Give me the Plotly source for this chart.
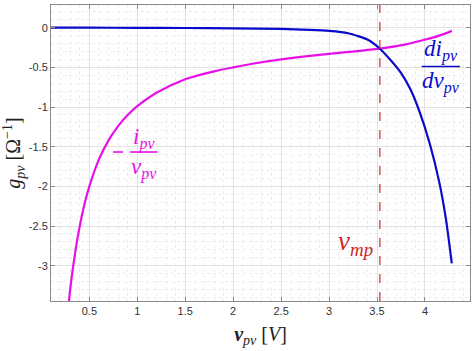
import plotly.graph_objects as go

# --- data ---
v_pink = [0.28, 0.30, 0.35, 0.40, 0.45, 0.50, 0.60, 0.70, 0.80, 0.90, 1.00, 1.20, 1.50, 1.80, 2.00, 2.20, 2.50, 2.80, 3.00, 3.30, 3.53, 3.80, 4.00, 4.15, 4.28]
g_pink = [-3.55, -3.30, -2.85, -2.50, -2.22, -2.00, -1.66, -1.42, -1.24, -1.10, -0.99, -0.82, -0.65, -0.55, -0.50, -0.455, -0.40, -0.355, -0.33, -0.295, -0.265, -0.21, -0.15, -0.10, -0.04]

v_blue = [0.10, 0.50, 1.00, 1.50, 2.00, 2.50, 2.80, 3.00, 3.20, 3.40, 3.53, 3.65, 3.75, 3.85, 3.95, 4.05, 4.15, 4.22, 4.28]
g_blue = [0.0, 0.0, -0.002, -0.004, -0.008, -0.015, -0.027, -0.04, -0.07, -0.15, -0.265, -0.42, -0.57, -0.78, -1.08, -1.46, -1.95, -2.42, -2.97]

v_mp = 3.53

x_ticks = [0.5, 1, 1.5, 2, 2.5, 3, 3.5, 4]
x_tick_labels = ["0.5", "1", "1.5", "2", "2.5", "3", "3.5", "4"]
y_ticks = [0, -0.5, -1, -1.5, -2, -2.5, -3]
y_tick_labels = ["0", "-0.5", "-1", "-1.5", "-2", "-2.5", "-3"]

PINK = "#E810E8"
BLUE = "#0A0ACC"
RED = "#D02828"
MATH = "Liberation Serif"

fig = go.Figure()
fig.add_trace(go.Scatter(x=v_pink, y=g_pink, mode="lines", line=dict(color=PINK, width=2.2, shape="spline", smoothing=0.8), showlegend=False))
fig.add_trace(go.Scatter(x=v_blue, y=g_blue, mode="lines", line=dict(color=BLUE, width=2.2, shape="spline", smoothing=0.6), showlegend=False))

fig.add_shape(type="line", xref="x", yref="paper", x0=v_mp, x1=v_mp, y0=0, y1=1,
              line=dict(color=RED, width=1.2, dash="dash"), layer="above")

# -i_pv / v_pv label
fig.add_shape(type="line", xref="x", yref="y", x0=0.747, x1=0.851, y0=-1.567, y1=-1.567, line=dict(color=PINK, width=1.6))
fig.add_annotation(x=1.07, y=-1.40, text="<i>i<sub>pv</sub></i>", showarrow=False, font=dict(family=MATH, size=23, color=PINK), xanchor="center", yanchor="middle")
fig.add_annotation(x=1.07, y=-1.77, text="<i>v<sub>pv</sub></i>", showarrow=False, font=dict(family=MATH, size=23, color=PINK), xanchor="center", yanchor="middle")
fig.add_shape(type="line", xref="x", yref="y", x0=0.925, x1=1.21, y0=-1.567, y1=-1.567, line=dict(color=PINK, width=1.6))

# di_pv / dv_pv label
fig.add_annotation(x=4.167, y=-0.29, text="<i>di<sub>pv</sub></i>", showarrow=False, font=dict(family=MATH, size=23, color=BLUE), xanchor="center", yanchor="middle")
fig.add_annotation(x=4.167, y=-0.69, text="<i>dv<sub>pv</sub></i>", showarrow=False, font=dict(family=MATH, size=23, color=BLUE), xanchor="center", yanchor="middle")
fig.add_shape(type="line", xref="x", yref="y", x0=3.966, x1=4.365, y0=-0.49, y1=-0.49, line=dict(color=BLUE, width=1.6))

# v_mp label
fig.add_annotation(x=3.28, y=-2.72, text="<i>v<sub>mp</sub></i>", showarrow=False, font=dict(family=MATH, size=27, color=RED), xanchor="center", yanchor="middle")

axis_common = dict(
    showline=True, linecolor="#8a8a8a", linewidth=1, mirror="ticks",
    ticks="inside", ticklen=4, tickcolor="#8a8a8a",
    showgrid=True, gridcolor="#e2e2e2", gridwidth=1, zeroline=False,
    tickfont=dict(family="Liberation Sans", size=11, color="#333333"),
)

fig.update_xaxes(range=[0.1, 4.47], tickvals=x_ticks, ticktext=x_tick_labels,
                 minor=dict(dtick=0.1, tick0=0, showgrid=True, gridcolor="#ededed", griddash="dot", ticks=""),
                 title=dict(text="<i><b>v</b><sub>pv</sub></i> [<i>V</i>]", font=dict(family=MATH, size=20, color="#222222"), standoff=10),
                 **axis_common)
fig.update_yaxes(range=[-3.445, 0.286], tickvals=y_ticks, ticktext=y_tick_labels,
                 minor=dict(dtick=0.1, tick0=0, showgrid=True, gridcolor="#ededed", griddash="dot", ticks=""),
                 title=dict(text="<i>g<sub>pv</sub></i> [Ω<sup>−1</sup>]", font=dict(family=MATH, size=20, color="#222222"), standoff=4),
                 **axis_common)

fig.update_layout(
    width=474, height=351,
    margin=dict(l=51, r=4, t=5, b=50),
    paper_bgcolor="white", plot_bgcolor="white",
)

fig.write_html("out.html")
